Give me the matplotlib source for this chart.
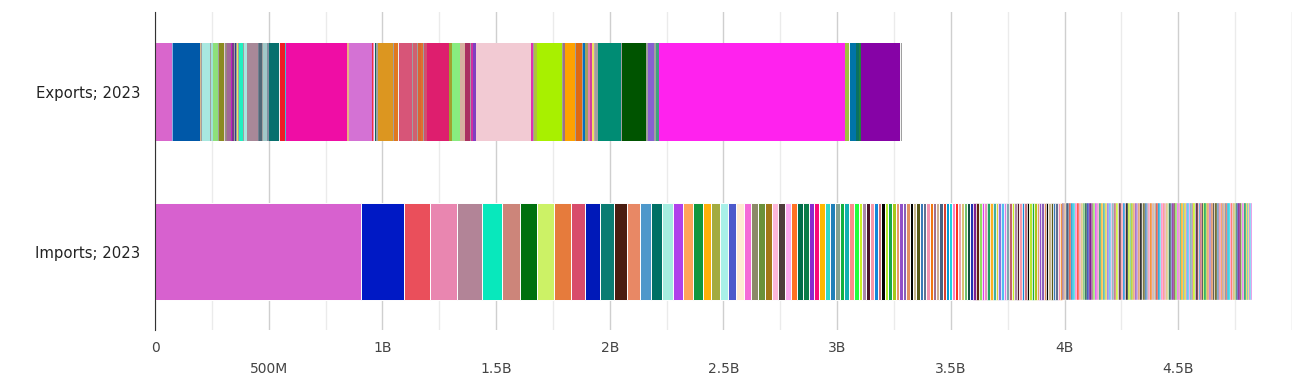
import matplotlib.pyplot as plt
import numpy as np

# trade partners, values in millions, in drawing order
rows = ["Exports; 2023", "Imports; 2023"]

exports = [75, 4, 118, 4, 4, 35, 4, 9, 4, 22, 4, 22, 4, 4, 4, 18, 4, 9, 4, 4,
           4, 4, 4, 18, 4, 13, 48, 4, 4, 13, 4, 18, 9, 44, 4, 22, 4, 268, 9, 101,
           4, 4, 4, 4, 9, 66, 4, 18, 4, 57, 4, 18, 4, 13, 9, 4, 13, 97, 13, 4,
           31, 22, 4, 22, 4, 9, 13, 241, 9, 4, 13, 109, 4, 9, 44, 4, 26, 4, 13, 9,
           9, 9, 9, 4, 13, 105, 4, 105, 9, 26, 9, 13, 816, 18, 4, 26, 13, 9, 175, 4, 4]
exports_colors = ['#d966cc', '#8ab0e0', '#0058a8', '#d8b890', '#a0a0a0', '#a8e8e0', '#a0a0a0',
                  '#a0e0d8', '#a0a0a0', '#8ee07a', '#a0a0a0', '#8b8a20', '#e8c8d0', '#909090',
                  '#a08080', '#a06898', '#c020c0', '#7a3a8a', '#a0a0a0', '#304080', '#a0a0a0',
                  '#f0e060', '#a0a0a0', '#20f0c0', '#a0a0a0', '#a8e8e0', '#a88898', '#a0a0a0',
                  '#708090', '#506878', '#a0a0a0', '#a0c8c8', '#8090a0', '#08706e', '#f4eef0',
                  '#f01c24', '#40c0d0', '#ef0da5', '#e8b080', '#d472d4', '#e83040', '#f080c0',
                  '#f0f0f0', '#106060', '#a0a0a0', '#dc9620', '#a0a0a0', '#e07820', '#f4f0f0',
                  '#d75578', '#a0a0a0', '#d06070', '#a0a0a0', '#d86830', '#e07030', '#a0a0a0',
                  '#d05070', '#de1e6e', '#a0a030', '#a0a0a0', '#88ec80', '#d8b0a0', '#f0e8e8',
                  '#aa3060', '#a0a0a0', '#d030a0', '#8040c0', '#f2cad3', '#e030b0', '#a0a0a0',
                  '#b0c040', '#a8f000', '#a0a0a0', '#a07080', '#ffa200', '#a0a0a0', '#e06a10',
                  '#a0a0a0', '#0070c0', '#a0a060', '#e080b0', '#d040a0', '#f0e060', '#c0a0b0',
                  '#a0a0a0', '#008c74', '#a0a0a0', '#005400', '#a0a0a0', '#8860d0', '#a0a0a0',
                  '#40a080', '#ff22ee', '#a0c040', '#f4f4f4', '#0074a8', '#0a7060', '#208040',
                  '#8603a6', '#f4f4f4', '#a0a0a0']

imports_head = [904, 193, 114, 118, 110, 88, 79, 75, 75, 75,
                61, 66, 61, 57, 57, 48, 48, 48, 44, 44,
                44, 35, 40, 35, 35, 35, 31, 31, 31, 31,
                26, 31, 26, 26, 26, 26, 26, 22, 26, 22,
                22, 22, 18, 22, 22, 18]
imports_tail = [17, 17, 16.5, 16.5, 16.5, 16, 16, 16, 16, 15.5, 15.5, 15.5, 15.5,
                15, 15, 15, 15, 14.5, 14.5, 14.5, 14.5, 14, 14, 14, 14, 14,
                13.5, 13.5, 13.5, 13.5, 13, 13, 13, 13, 12.5, 12.5,
                12.5, 12.5, 12.5, 12.5, 12, 12, 12, 12, 12, 11.5, 11.5, 11.5, 11.5, 11.5,
                11, 11, 11, 11, 11, 11, 10.5, 10.5, 10.5, 10.5, 10.5, 10.5,
                10, 10, 10, 10, 10, 10, 10, 9.5, 9.5, 9.5, 9.5, 9.5, 9.5, 9.5,
                9, 9, 9, 9, 9, 9, 9, 8.5, 8.5, 8.5, 8.5, 8.5, 8.5, 8.5,
                8, 8, 8, 8, 8, 8, 8,
                7.5, 7.5, 7.5, 7.5, 7.5, 7.5, 7.5, 7.5, 7.5, 7.5, 7.5, 7.5, 7.5, 7.5, 7.5, 7.5,
                7.5, 7.5,
                7, 7, 7, 7, 7, 7, 7, 7, 7, 7, 7, 7, 7, 7, 7, 7,
                6.5, 6.5, 6.5, 6.5, 6.5, 6.5, 6.5, 6.5, 6.5, 6.5, 6.5, 6.5, 6.5, 6.5, 6.5, 6.5,
                6, 6, 6, 6, 6, 6, 6, 6, 6, 6, 6, 6, 6, 6, 6, 6, 6, 6,
                5.5, 5.5, 5.5, 5.5, 5.5, 5.5, 5.5, 5.5, 5.5, 5.5, 5.5, 5.5, 5.5, 5.5, 5.5, 5.5,
                5, 5, 5, 5, 5, 5, 5, 5, 5]
imports = imports_head + imports_tail

head_colors = ['#d761cf', '#0019c5', '#ea4f5b', '#e986b0', '#b28497', '#08e8bc', '#cc857a',
               '#00700f', '#ccf266', '#e67b3c', '#d84c6b', '#0019b8', '#0a7c72', '#4a1c10',
               '#e88865', '#4d98cb', '#007065', '#a5ede0', '#b040eb', '#ffa35a', '#10973e',
               '#ffb00a', '#a3ab40', '#a8f0e8', '#4d5acb', '#ffebd2', '#f56ad8', '#8c8a68',
               '#6b913a', '#a37718', '#fdb6d8', '#4e3c3c', '#fca8f0', '#ff7124', '#006c4a',
               '#0a7c4a', '#8a2ad0', '#fa0a78', '#ffb800', '#30d8c8', '#1f7fb8', '#80a090',
               '#10b040', '#10b0b0', '#fa8c8c', '#20ff40']
tail_palette = ['#c8f020', '#a888a8', '#4a1428', '#f898a8', '#1088d8', '#c87080', '#000000',
                '#b8e830', '#18a848', '#a8c818', '#e89868', '#9050c8', '#8860b8', '#e09060',
                '#000000', '#c8b890', '#585818', '#3878b8', '#607090', '#f090b0', '#f07810',
                '#a07090', '#d0b090', '#486080', '#d84030', '#0098d0', '#20d0e0', '#ff80c0',
                '#ff3020', '#e8a0b0', '#d8c070', '#70c070', '#105040', '#2030b0', '#802090',
                '#602010', '#90e060', '#e040f0', '#e890c0', '#20a060', '#ffb020', '#40b0a0',
                '#e0d040', '#9070e0', '#50c0f0', '#e080e0', '#80a8b0', '#c06070']
imports_colors = head_colors + [tail_palette[i % len(tail_palette)]
                                for i in range(len(imports_tail))]

fig = plt.figure(figsize=(12.93, 3.84), dpi=100)
ax = fig.add_axes([0.1199, 0.1406, 0.8793, 0.8281])

# grid: darker every 500M, lighter in between
for g in np.arange(0, 5.01e9, 250e6):
    major = round(g / 500e6, 6) % 1 == 0
    ax.axvline(g, color='#cfcfcf' if major else '#ebebeb', lw=1, zorder=0)

bar_h = 0.61
# exports: no separators
left = 0
for v, c in zip(exports, exports_colors):
    ax.barh(0, v * 1e6, left=left, height=bar_h, color=c, linewidth=0, zorder=2)
    left += v * 1e6

# imports: white separators, thinner for the tiny partners
left = 0
for v, c in zip(imports, imports_colors):
    if v >= 13:
        lw = 0.7
    elif v >= 10:
        lw = 0.45
    elif v >= 7:
        lw = 0.3
    else:
        lw = 0.2
    ax.barh(1, v * 1e6, left=left, height=bar_h, color=c,
            edgecolor='white', linewidth=lw, zorder=2)
    left += v * 1e6

ax.set_xlim(0, 5e9)
ax.set_ylim(1.49, -0.5)

ax.set_yticks([0, 1])
ax.set_yticklabels(rows, fontsize=10.7, color='#222222')

tick_vals = np.arange(0, 4.51e9, 500e6)
labels = ['0', '500M', '1B', '1.5B', '2B', '2.5B', '3B', '3.5B', '4B', '4.5B']
ax.set_xticks(tick_vals)
ax.set_xticklabels([l if i % 2 == 0 else '\n' + l for i, l in enumerate(labels)],
                   fontsize=10, color='#444444', linespacing=1.6)
ax.tick_params(axis='both', length=0)
ax.tick_params(axis='x', pad=8)
ax.tick_params(axis='y', pad=10.5)

for s in ['top', 'right', 'bottom']:
    ax.spines[s].set_visible(False)
ax.spines['left'].set_color('#333333')
ax.spines['left'].set_zorder(3)

fig.savefig('out.png', dpi=100)
